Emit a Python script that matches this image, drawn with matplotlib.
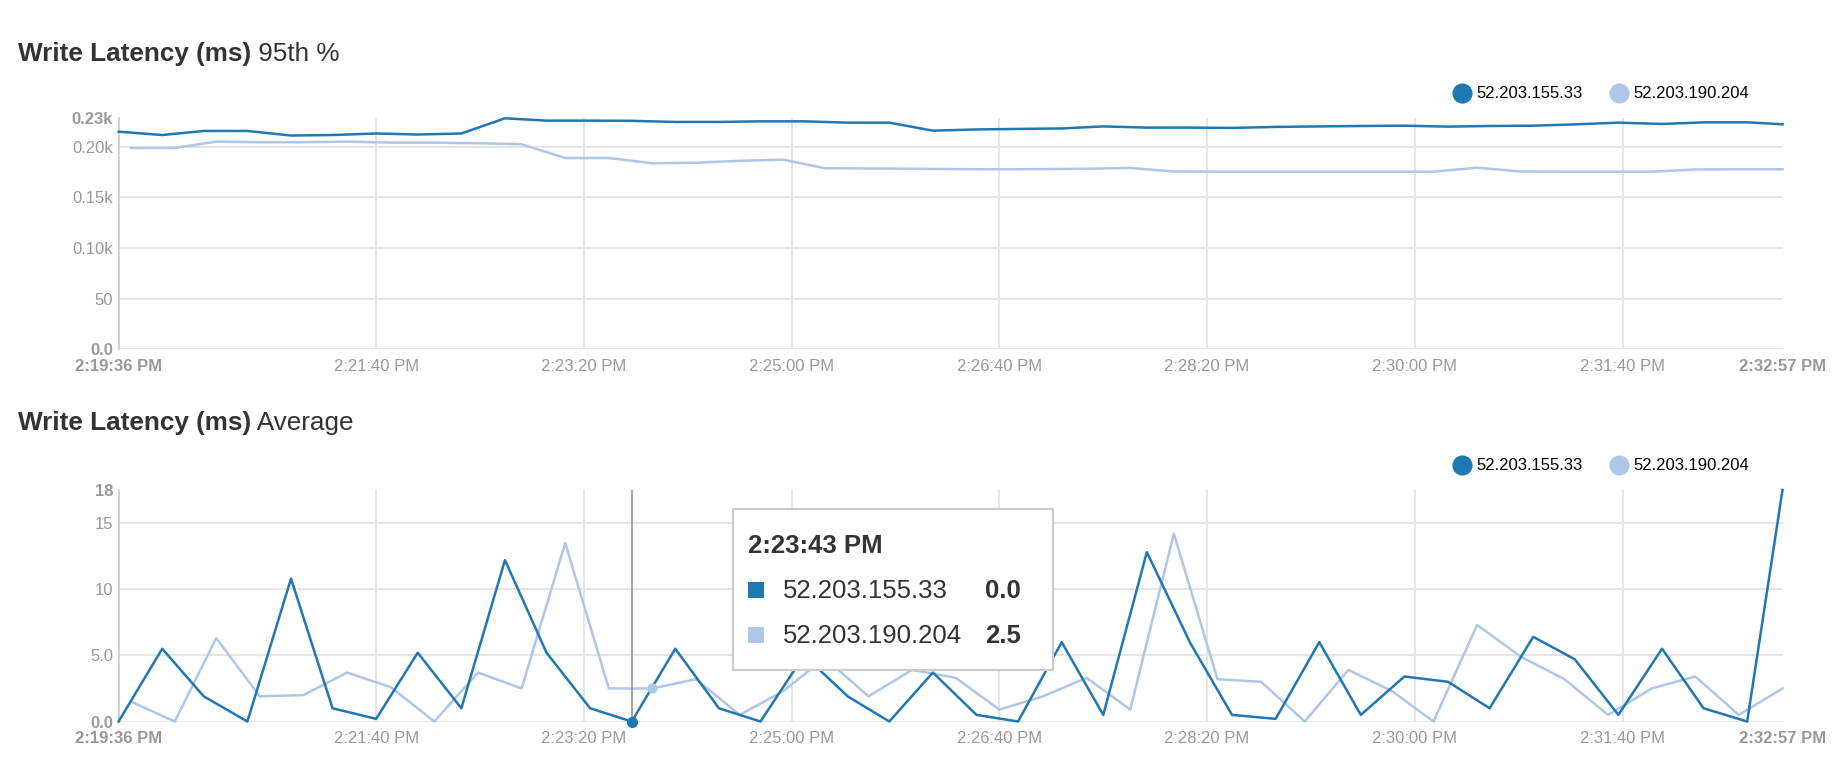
import matplotlib
matplotlib.use("Agg")
import matplotlib.pyplot as plt
from matplotlib.lines import Line2D
from matplotlib.patches import Rectangle

plt.rcParams['font.family'] = ['Liberation Sans', 'DejaVu Sans']

# ---------------- data ----------------
host_a = "52.203.155.33"
host_b = "52.203.190.204"

# seconds after 2:19:36 PM
t_a = [0, 21, 41, 62, 83, 103, 124, 144, 165, 186, 206, 227, 247, 268, 289, 309,
       330, 351, 371, 392, 413, 433, 454, 474, 495, 516, 536, 557, 578, 598, 619,
       640, 660, 681, 701, 722, 743, 763, 784, 801]
t_b = [6, 27, 47, 68, 89, 110, 131, 152, 173, 194, 215, 236, 257, 278, 299, 320,
       340, 361, 382, 403, 424, 445, 466, 487, 508, 529, 550, 571, 592, 613, 633,
       654, 675, 696, 717, 738, 759, 780, 801]

p95_a = [214.8, 211.5, 215.5, 215.5, 211.0, 211.5, 213.0, 212.0, 213.0, 228.0,
         225.7, 225.7, 225.5, 224.4, 224.4, 225.0, 225.0, 223.7, 223.7, 215.8,
         217.0, 217.5, 218.0, 220.0, 218.8, 218.8, 218.5, 219.5, 220.0, 220.4,
         220.7, 219.8, 220.4, 220.7, 222.0, 223.7, 222.4, 224.0, 224.0, 222.1]
p95_b = [198.7, 198.7, 205.0, 204.4, 204.4, 205.0, 204.0, 204.0, 203.4, 202.4,
         188.8, 188.8, 183.6, 184.2, 186.0, 187.2, 178.7, 178.5, 178.2, 177.8,
         177.7, 177.8, 178.2, 179.0, 175.5, 175.3, 175.3, 175.3, 175.3, 175.3,
         175.3, 179.3, 175.5, 175.3, 175.3, 175.3, 177.5, 177.7, 177.7]

avg_a = [0.0, 5.5, 1.9, 0.0, 10.8, 1.0, 0.2, 5.2, 1.0, 12.2,
         5.2, 1.0, 0.0, 5.5, 1.0, 0.0, 5.0, 1.9, 0.0, 3.7,
         0.5, 0.0, 6.0, 0.5, 12.8, 5.9, 0.5, 0.2, 6.0, 0.5,
         3.4, 3.0, 1.0, 6.4, 4.7, 0.5, 5.5, 1.0, 0.0, 17.5]
avg_b = [1.5, 0.0, 6.3, 1.9, 2.0, 3.7, 2.6, 0.0, 3.7, 2.5,
         13.5, 2.5, 2.5, 3.2, 0.5, 2.3, 4.8, 1.9, 3.9, 3.3,
         0.9, 1.9, 3.3, 0.9, 14.2, 3.2, 3.0, 0.0, 3.9, 2.3,
         0.0, 7.3, 4.9, 3.2, 0.5, 2.5, 3.4, 0.5, 2.5]

x_tick_secs = [0, 124, 224, 324, 424, 524, 624, 724, 801]
x_tick_labels = ["2:19:36 PM", "2:21:40 PM", "2:23:20 PM", "2:25:00 PM", "2:26:40 PM",
                 "2:28:20 PM", "2:30:00 PM", "2:31:40 PM", "2:32:57 PM"]

p95_ticks = [0, 50, 100, 150, 200]
p95_tick_labels = ["0.0", "50", "0.10k", "0.15k", "0.20k", "0.23k"]
avg_ticks = [0, 5, 10, 15]
avg_tick_labels = ["0.0", "5.0", "10", "15", "18"]

title_bold = "Write Latency (ms)"
title_top = "95th %"
title_bottom = "Average"

tooltip_time = "2:23:43 PM"
tooltip_idx = 12

# ---------------- style ----------------
C_A = "#1f77b4"
C_B = "#aec7e8"
GRID = "#e5e5e5"
TICK = "#999999"
TXT = "#333333"

W, H = 1842, 772
fig = plt.figure(figsize=(W / 100, H / 100), dpi=100)


def fx(x):
    return x / W


def fy(y):
    return 1 - y / H


def make_axes(top, bottom):
    return fig.add_axes([fx(118.6), fy(bottom), fx(1782.5) - fx(118.6), fy(top) - fy(bottom)])


def style(ax, yticks, ylabels, ymax):
    ax.set_xlim(x_tick_secs[0], x_tick_secs[-1])
    ax.set_ylim(0, ymax)
    for s in ["top", "right", "bottom"]:
        ax.spines[s].set_visible(False)
    ax.spines["left"].set_color("#cccccc")
    ax.spines["left"].set_linewidth(1.2)
    ax.set_xticks(x_tick_secs, x_tick_labels)
    ax.set_yticks(yticks + [ymax], ylabels)
    ax.tick_params(axis="both", length=0, labelsize=12, colors=TICK)
    ax.tick_params(axis="x", pad=7)
    ax.tick_params(axis="y", pad=4)
    for t in x_tick_secs[1:-1]:
        ax.axvline(t, color=GRID, lw=1.4, zorder=0)
    for v in yticks:
        ax.axhline(v, color=GRID, lw=1.4, zorder=0)
    xl = ax.get_xticklabels()
    yl = ax.get_yticklabels()
    for lab in (xl[0], xl[-1], yl[0], yl[-1]):
        lab.set_fontweight("bold")


def title(y, extra):
    t1 = fig.text(fx(18), fy(y), title_bold, fontsize=18.8, fontweight="bold",
                  color=TXT, va="baseline", ha="left")
    fig.text(0, 0, "", alpha=0)
    ann = ax_dummy.annotate(" " + extra, xy=(1, 0), xycoords=t1, fontsize=18.8,
                            color=TXT, va="bottom", ha="left", annotation_clip=False)
    return t1, ann


def legend(y):
    fig.add_artist(Line2D([fx(1462)], [fy(y)], marker="o", ms=13.5, color=C_A,
                          linestyle="none", transform=fig.transFigure))
    fig.text(fx(1476), fy(y), host_a, fontsize=12, va="center", ha="left", color="#000000")
    fig.add_artist(Line2D([fx(1618.5)], [fy(y)], marker="o", ms=13.5, color=C_B,
                          linestyle="none", transform=fig.transFigure))
    fig.text(fx(1633), fy(y), host_b, fontsize=12, va="center", ha="left", color="#000000")


ax_dummy = fig.add_axes([0, 0, 1, 1], zorder=-5)
ax_dummy.axis("off")

# ----- top chart -----
ax1 = make_axes(118.3, 349.3)
ymax1 = max(p95_a + p95_b)
style(ax1, p95_ticks, p95_tick_labels, ymax1)
ax1.plot(t_b, p95_b, color=C_B, lw=1.8, clip_on=False, zorder=3)
ax1.plot(t_a, p95_a, color=C_A, lw=1.8, clip_on=False, zorder=4)
title(61, title_top)
legend(93)

# ----- bottom chart -----
ax2 = make_axes(490, 721.5)
ymax2 = max(avg_a + avg_b)
style(ax2, avg_ticks, avg_tick_labels, ymax2)
ax2.plot(t_b, avg_b, color=C_B, lw=1.8, clip_on=False, zorder=3)
ax2.plot(t_a, avg_a, color=C_A, lw=1.8, clip_on=False, zorder=4)
ax2.axvline(t_a[tooltip_idx], color="#8a8a8a", lw=1.1, zorder=5)
ax2.plot([t_a[tooltip_idx]], [avg_a[tooltip_idx]], "o", color=C_A, ms=7, clip_on=False, zorder=6)
ax2.plot([t_b[tooltip_idx]], [avg_b[tooltip_idx]], "o", color=C_B, ms=6.5, clip_on=False, zorder=6)
title(430, title_bottom)
legend(465)

# ----- tooltip -----
fig.add_artist(Rectangle((fx(733), fy(670)), fx(1053) - fx(733), fy(509) - fy(670),
                         transform=fig.transFigure, facecolor="white",
                         edgecolor="#cccccc", lw=1.6, zorder=20))
fig.text(fx(748), fy(553), tooltip_time, fontsize=18.5, fontweight="bold",
         color=TXT, va="baseline", ha="left", zorder=21)
rows = [(host_a, avg_a[tooltip_idx], C_A, 598), (host_b, avg_b[tooltip_idx], C_B, 643)]
for name, val, col, base in rows:
    fig.add_artist(Rectangle((fx(748), fy(base)), fx(764) - fx(748), fy(base - 16) - fy(base),
                             transform=fig.transFigure, facecolor=col, edgecolor="none",
                             zorder=21))
    fig.text(fx(783), fy(base), name, fontsize=18.5, color=TXT, va="baseline",
             ha="left", zorder=21)
    fig.text(fx(985), fy(base), f"{val:.1f}", fontsize=18.5, fontweight="bold",
             color=TXT, va="baseline", ha="left", zorder=21)

fig.savefig("out.png", dpi=100)
